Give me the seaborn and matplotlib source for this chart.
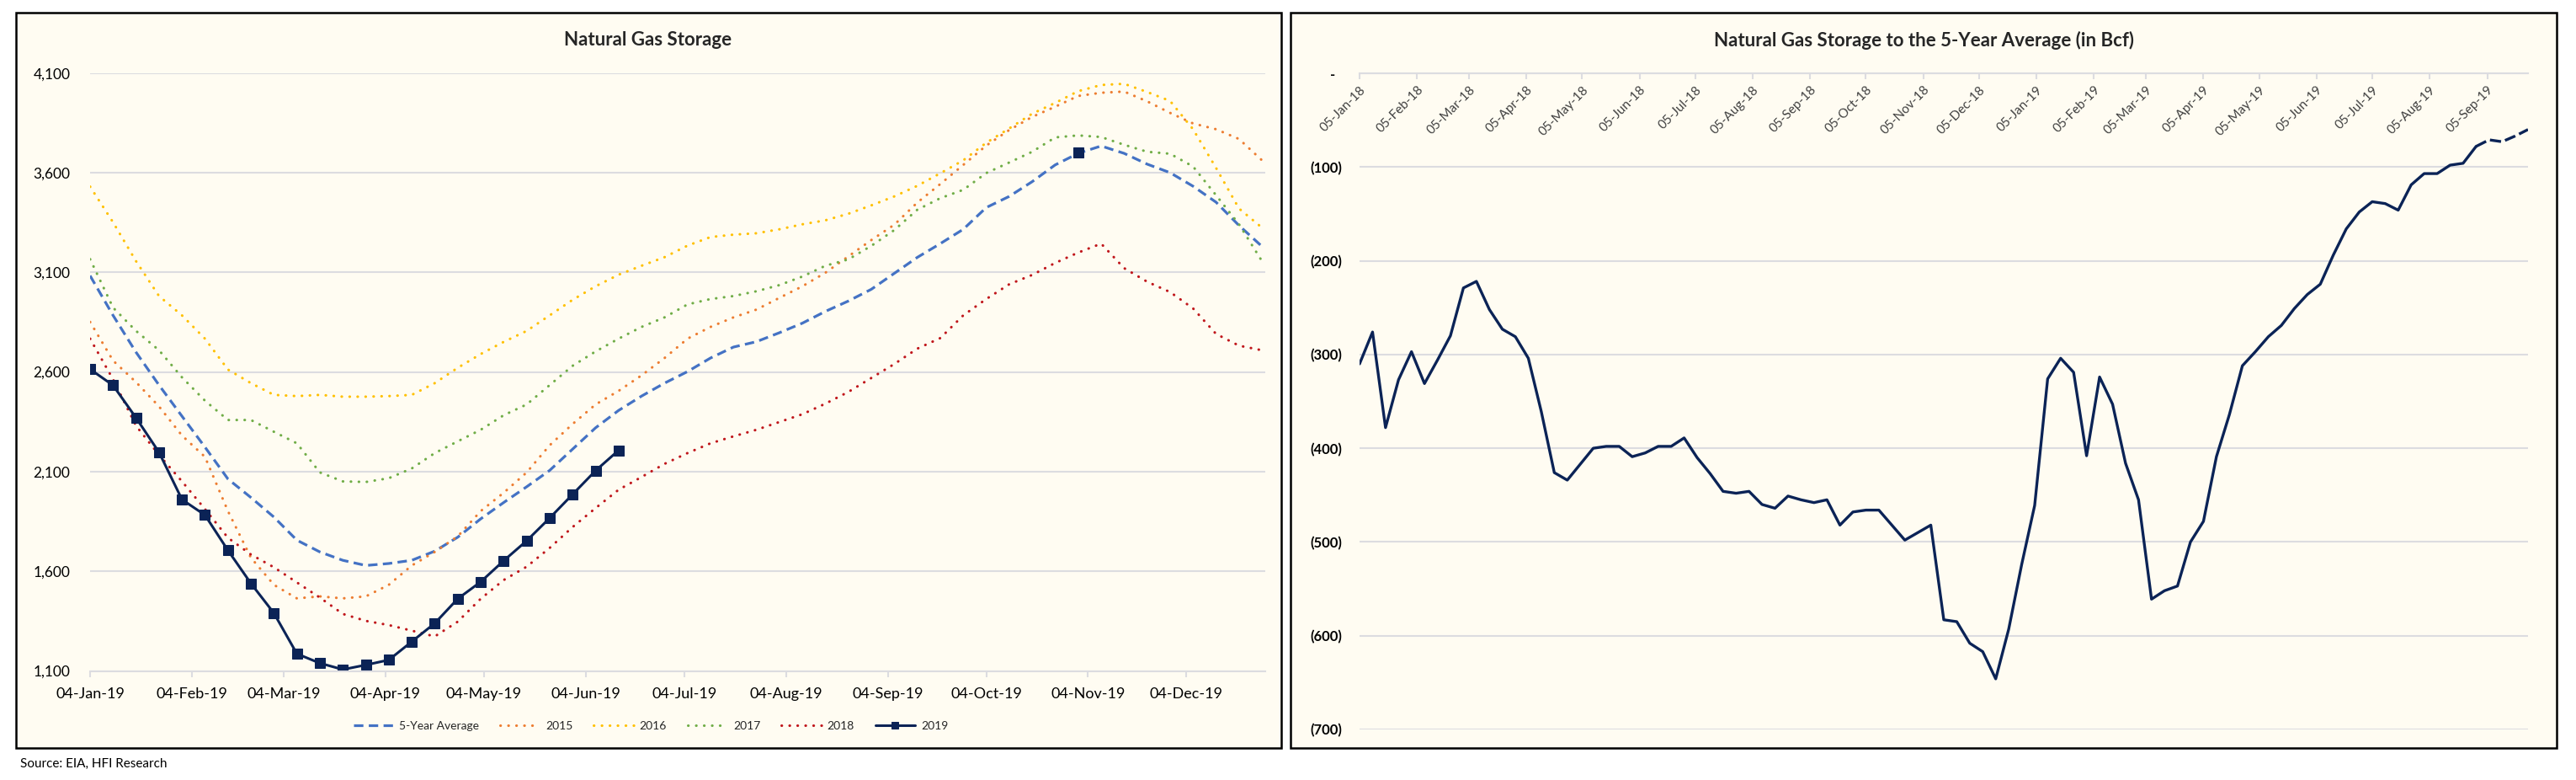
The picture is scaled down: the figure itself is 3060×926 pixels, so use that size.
import matplotlib
matplotlib.use("Agg")
import matplotlib.pyplot as plt
import matplotlib.dates as mdates
from matplotlib.patches import Rectangle
from matplotlib.ticker import FuncFormatter
import numpy as np
import pandas as pd
import seaborn as sns

# ---- data: left panel, weekly storage in Bcf (weeks of 2019) ----
weeks_2019 = pd.date_range("2019-01-04", periods=52, freq="7D")

five_year_avg = [3083, 2884, 2699, 2534, 2378, 2223, 2063, 1970, 1872, 1756, 1697, 1655, 1629,
                 1639, 1655, 1701, 1771, 1863, 1945, 2024, 2106, 2213, 2320, 2407, 2479, 2544,
                 2602, 2670, 2725, 2752, 2797, 2845, 2904, 2956, 3015, 3095, 3175, 3244, 3316,
                 3425, 3481, 3555, 3639, 3697, 3734, 3697, 3643, 3600, 3532, 3452, 3335, 3230]
storage_2015 = [2851, 2657, 2549, 2427, 2281, 2174, 1902, 1668, 1532, 1464, 1474, 1464, 1474,
                1532, 1629, 1697, 1775, 1902, 1994, 2096, 2232, 2339, 2437, 2505, 2583, 2670,
                2767, 2826, 2874, 2913, 2972, 3030, 3098, 3180, 3262, 3339, 3450, 3543, 3639,
                3736, 3814, 3880, 3931, 3985, 4001, 4007, 3958, 3900, 3847, 3818, 3769, 3662]
storage_2016 = [3530, 3351, 3156, 2981, 2884, 2767, 2612, 2544, 2485, 2479, 2485, 2476, 2476,
                2479, 2485, 2544, 2621, 2690, 2751, 2806, 2884, 2962, 3030, 3088, 3133, 3176,
                3234, 3277, 3289, 3296, 3316, 3341, 3361, 3394, 3436, 3481, 3534, 3597, 3662,
                3750, 3822, 3896, 3950, 4009, 4040, 4046, 4005, 3960, 3818, 3624, 3420, 3324]
storage_2017 = [3166, 2923, 2806, 2709, 2573, 2456, 2359, 2359, 2300, 2242, 2096, 2051, 2048,
                2067, 2116, 2193, 2252, 2310, 2383, 2437, 2534, 2631, 2703, 2767, 2826, 2874,
                2939, 2966, 2981, 3005, 3036, 3079, 3133, 3165, 3233, 3312, 3414, 3472, 3514,
                3598, 3651, 3705, 3777, 3787, 3779, 3740, 3705, 3695, 3631, 3487, 3341, 3156]
storage_2018 = [2767, 2563, 2330, 2184, 2051, 1912, 1768, 1684, 1620, 1544, 1468, 1386, 1351,
                1330, 1302, 1273, 1347, 1462, 1556, 1623, 1717, 1822, 1917, 2009, 2073, 2139,
                2193, 2242, 2277, 2310, 2349, 2388, 2441, 2500, 2570, 2640, 2717, 2770, 2884,
                2966, 3040, 3087, 3147, 3199, 3244, 3121, 3053, 3001, 2919, 2791, 2732, 2709]
storage_2019 = [2614, 2533, 2370, 2197, 1960, 1882, 1705, 1539, 1390, 1186, 1139, 1107, 1130,
                1155, 1247, 1339, 1462, 1547, 1653, 1753, 1867, 1986, 2105, 2207]
forecast_date = [pd.Timestamp("2019-11-01")]
forecast_value = [3700]

# ---- data: right panel, storage minus 5-year average (Bcf) ----
diff_weeks = pd.date_range("2018-01-05", periods=91, freq="7D")
diff_to_avg = [-310, -276, -378, -327, -297, -331, -306, -280, -229, -222, -252, -273, -281,
               -304, -361, -426, -434, -417, -400, -398, -398, -409, -405, -398, -398, -389,
               -410, -427, -446, -448, -446, -460, -464, -451, -455, -458, -455, -482, -468,
               -466, -466, -482, -498, -490, -482, -583, -585, -608, -617, -646, -593, -524,
               -461, -326, -304, -319, -408, -324, -353, -416, -455, -561, -552, -547, -500,
               -478, -409, -364, -312, -297, -281, -269, -251, -236, -225, -194, -166, -148,
               -137, -139, -146, -119, -107, -107, -98, -96, -78, -71, -73, -67, -60]
n_dashed = 4  # last weeks drawn dashed

left_ticks = [pd.Timestamp(2019, m, 4) for m in range(1, 13)]
right_ticks = [pd.Timestamp(2018, m, 5) for m in range(1, 13)] + \
              [pd.Timestamp(2019, m, 5) for m in range(1, 10)]

# ---- style ----
sns.set_theme(style="white")
plt.rcParams["font.family"] = ["Lato", "DejaVu Sans"]

W, H = 3060, 926
cream = "#FFFCF2"
grid_c = "#DCDCE0"
navy = "#0B2356"
dotted = (0, (0.1, 3.0))

fig = plt.figure(figsize=(W / 100, H / 100), dpi=100)
fig.patch.set_facecolor("white")

# panel frames (pixel boxes converted to figure fractions)
for x0, x1 in [(19, 1522), (1533, 3037)]:
    fig.add_artist(Rectangle((x0 / W, 1 - 888 / H), (x1 - x0) / W, (888 - 15) / H,
                             transform=fig.transFigure, facecolor=cream,
                             edgecolor="black", linewidth=1.8, zorder=-10))

# ---------------- left: Natural Gas Storage ----------------
ax1 = fig.add_axes([107 / W, 1 - 796.5 / H, (1503 - 107) / W, (796.5 - 86.7) / H])
ax1.set_facecolor("none")

sns.lineplot(x=weeks_2019, y=five_year_avg, ax=ax1, color="#4472C4", linewidth=2.3,
             linestyle=(0, (3.5, 2)), label="5-Year Average")
for vals, col, lab in [(storage_2015, "#ED7D31", "2015"), (storage_2016, "#FFC000", "2016"),
                       (storage_2017, "#70AD47", "2017"), (storage_2018, "#C0161B", "2018")]:
    sns.lineplot(x=weeks_2019, y=vals, ax=ax1, color=col, linewidth=2.2,
                 linestyle=dotted, dash_capstyle="round", label=lab)
sns.lineplot(x=weeks_2019[:len(storage_2019)], y=storage_2019, ax=ax1, color=navy,
             linewidth=2.2, marker="s", markersize=9, markeredgecolor=navy, label="2019")
sns.lineplot(x=forecast_date, y=forecast_value, ax=ax1, color=navy, marker="s",
             markersize=9, markeredgecolor=navy, linewidth=0)

ax1.set_xlim(pd.Timestamp("2019-01-04"), pd.Timestamp("2019-12-28"))
ax1.set_ylim(1100, 4100)
ax1.set_yticks(range(1100, 4101, 500))
ax1.yaxis.set_major_formatter(FuncFormatter(lambda v, p: f"{v:,.0f}"))
ax1.set_xticks(left_ticks)
ax1.xaxis.set_major_formatter(mdates.DateFormatter("%d-%b-%y"))
ax1.yaxis.grid(True, color=grid_c, linewidth=1.5)
ax1.xaxis.grid(False)
for s in ["top", "right", "left"]:
    ax1.spines[s].set_visible(False)
ax1.spines["bottom"].set_color(grid_c)
ax1.spines["bottom"].set_linewidth(1.5)
ax1.tick_params(axis="y", length=0, pad=17, labelsize=12.5, labelcolor="black")
ax1.tick_params(axis="x", bottom=True, direction="out", length=5, width=1.5, color=grid_c,
                pad=9, labelsize=13, labelcolor="black")
ax1.set_xlabel("")
ax1.set_ylabel("")
ax1.legend(loc="center", bbox_to_anchor=(773 / W, 1 - 862 / H), bbox_transform=fig.transFigure,
           ncol=6, frameon=False, fontsize=10, handlelength=3.4, columnspacing=1.8,
           handletextpad=0.5, markerscale=0.7)

fig.text(770 / W, 1 - 48 / H, "Natural Gas Storage", ha="center", va="center",
         fontsize=16, fontweight="bold")

# ---------------- right: storage vs 5-year average ----------------
ax2 = fig.add_axes([1615 / W, 1 - 866 / H, (3003 - 1615) / W, (866 - 87) / H])
ax2.set_facecolor("none")

solid_end = len(diff_to_avg) - n_dashed
sns.lineplot(x=diff_weeks[:solid_end], y=diff_to_avg[:solid_end], ax=ax2, color=navy,
             linewidth=2.4)
sns.lineplot(x=diff_weeks[solid_end - 1:], y=diff_to_avg[solid_end - 1:], ax=ax2, color=navy,
             linewidth=2.4, linestyle=(0, (4, 1.5)))

ax2.set_xlim(pd.Timestamp("2018-01-05"), pd.Timestamp("2019-09-27"))
ax2.set_ylim(-700, 0)
ax2.set_yticks(range(-700, 1, 100))
ax2.yaxis.set_major_formatter(FuncFormatter(lambda v, p: "-  " if v == 0 else f"({abs(v):.0f})"))
ax2.set_xticks(right_ticks)
ax2.xaxis.set_major_formatter(mdates.DateFormatter("%d-%b-%y"))
ax2.yaxis.grid(True, color=grid_c, linewidth=1.5)
ax2.xaxis.grid(False)
for s in ["top", "right", "left"]:
    ax2.spines[s].set_visible(False)
ax2.spines["bottom"].set_position(("data", 0))
ax2.spines["bottom"].set_color(grid_c)
ax2.spines["bottom"].set_linewidth(1.5)
ax2.tick_params(axis="y", length=0, pad=15, labelsize=12, labelcolor="black")
for lab in ax2.get_yticklabels():
    lab.set_fontweight("bold")
ax2.tick_params(axis="x", bottom=True, direction="out", length=5, width=1.5, color=grid_c,
                pad=4, labelsize=11, labelcolor="#404040")
plt.setp(ax2.get_xticklabels(), rotation=45, ha="right", rotation_mode="anchor")
ax2.set_xlabel("")
ax2.set_ylabel("")

fig.text(2285 / W, 1 - 48 / H, "Natural Gas Storage to the 5-Year Average (in Bcf)",
         ha="center", va="center", fontsize=16, fontweight="bold")

fig.text(24 / W, 1 - 907 / H, "Source: EIA, HFI Research", ha="left", va="center",
         fontsize=11, color="black")

fig.savefig("out.png", dpi=100)
